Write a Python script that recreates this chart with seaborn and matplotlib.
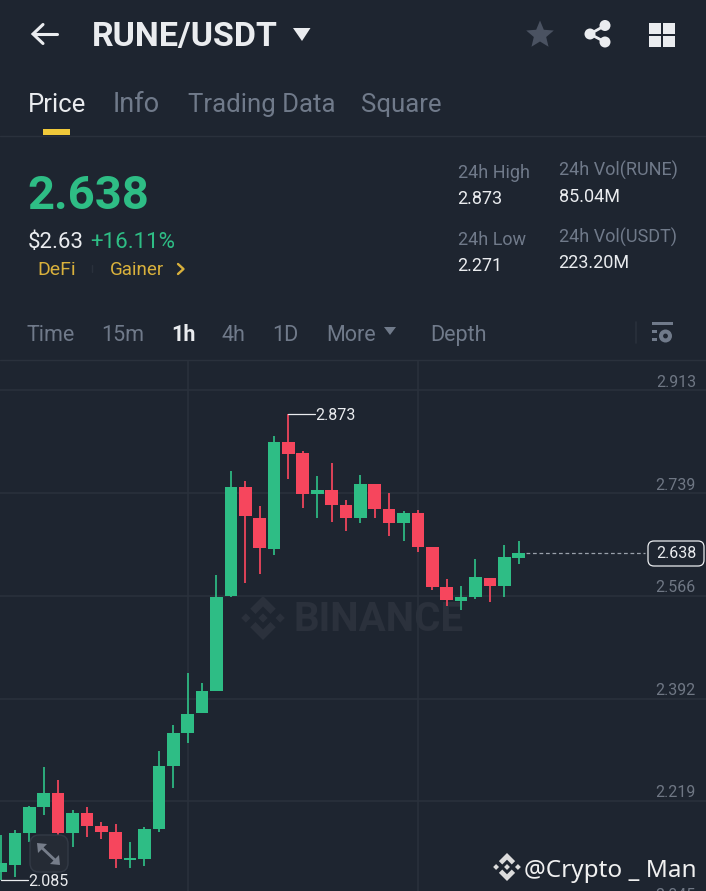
import matplotlib
matplotlib.use("Agg")
import matplotlib.pyplot as plt
from matplotlib.patches import Polygon, Rectangle, Circle, FancyBboxPatch
import numpy as np
import pandas as pd
import seaborn as sns

# ── 1h candles ──────────────────────────────────────────────────────────────
opens = [2.099, 2.110, 2.165, 2.208, 2.233, 2.165, 2.199, 2.176, 2.166, 2.119, 2.121, 2.171,
         2.278, 2.334, 2.367, 2.405, 2.565, 2.749, 2.698, 2.645, 2.825, 2.807, 2.738, 2.744,
         2.719, 2.698, 2.754, 2.712, 2.688, 2.705, 2.649, 2.581, 2.557, 2.564, 2.596, 2.582, 2.630]
closes = [2.114, 2.164, 2.208, 2.233, 2.164, 2.199, 2.176, 2.167, 2.120, 2.122, 2.171, 2.278,
          2.333, 2.365, 2.405, 2.564, 2.749, 2.701, 2.646, 2.825, 2.806, 2.738, 2.745, 2.719,
          2.698, 2.755, 2.713, 2.688, 2.705, 2.648, 2.581, 2.558, 2.563, 2.597, 2.583, 2.631, 2.638]
highs = [2.161, 2.170, 2.210, 2.277, 2.254, 2.203, 2.208, 2.184, 2.179, 2.150, 2.175, 2.304,
         2.347, 2.435, 2.418, 2.600, 2.776, 2.760, 2.718, 2.836, 2.873, 2.811, 2.769, 2.790,
         2.728, 2.770, 2.754, 2.740, 2.709, 2.710, 2.649, 2.594, 2.583, 2.628, 2.596, 2.652, 2.659]
lows = [2.085, 2.091, 2.150, 2.195, 2.161, 2.141, 2.158, 2.154, 2.105, 2.105, 2.108, 2.167,
        2.240, 2.317, 2.367, 2.404, 2.563, 2.587, 2.602, 2.634, 2.763, 2.714, 2.697, 2.691,
        2.675, 2.688, 2.697, 2.666, 2.658, 2.640, 2.576, 2.548, 2.542, 2.561, 2.555, 2.563, 2.619]

price_ticks = [2.913, 2.739, 2.566, 2.392, 2.219, 2.045]
time_grid = [13, 29]
last_price = 2.638
chart_high = 2.873
chart_low = 2.085

# ── Colours ─────────────────────────────────────────────────────────────────
BG = "#1e2530"
GRID = "#2a313c"
UP = "#2ebd85"
DOWN = "#f6465d"
WHITE = "#eaecef"
MUTED = "#707a8a"
AXIS_TXT = "#6f7784"
YELLOW = "#d9b13c"
MARK = "#2b313c"

W, H = 706, 891
CHART_TOP = 360

sns.set_theme(style="dark", rc={"figure.facecolor": BG, "axes.facecolor": BG})
plt.rcParams["font.family"] = ["Roboto", "DejaVu Sans"]

fig = plt.figure(figsize=(W / 100, H / 100), dpi=100)


def pixel_axes(zorder):
    a = fig.add_axes([0, 0, 1, 1], zorder=zorder)
    a.set_xlim(0, W)
    a.set_ylim(H, 0)
    a.axis("off")
    return a


bg_ax = pixel_axes(0)
top_ax = pixel_axes(2)
ax = fig.add_axes([0, 0, 1, (H - CHART_TOP) / H], zorder=1)
ax.patch.set_alpha(0)


def txt(x, y, s, size, color=WHITE, weight="normal", ha="left", target=None, **kw):
    (target or bg_ax).text(x, y, s, fontsize=size, color=color, fontweight=weight,
                           ha=ha, va="baseline", **kw)


def binance_logo(a, cx, cy, r, color):
    chevron = np.array([(0, -1), (.58, -.42), (.34, -.18), (0, -.52), (-.34, -.18), (-.58, -.42)])
    diamond = np.array([(0, -.21), (.21, 0), (0, .21), (-.21, 0)])
    for sign in (1, -1):
        a.add_patch(Polygon(chevron * [1, sign] * r + [cx, cy], color=color, lw=0))
        a.add_patch(Polygon((diamond + [sign * .78, 0]) * r + [cx, cy], color=color, lw=0))
    a.add_patch(Polygon(diamond * r + [cx, cy], color=color, lw=0))


# ── Candles ─────────────────────────────────────────────────────────────────
df = pd.DataFrame({"open": opens, "close": closes, "high": highs, "low": lows})
df["idx"] = np.arange(len(df))
df["bottom"] = df[["open", "close"]].min(axis=1)
df["body"] = (df["close"] - df["open"]).abs()
df["up"] = df["close"] >= df["open"]

for up, color in [(True, UP), (False, DOWN)]:
    sub = df[df["up"] == up]
    ax.vlines(sub["idx"], sub["low"], sub["high"], color=color, lw=1.25, zorder=2)
    sns.barplot(data=sub, x="idx", y="body", bottom=sub["bottom"].values, native_scale=True,
                color=color, saturation=1, width=0.88, errorbar=None, linewidth=0, ax=ax, zorder=3)

ax.set_xlabel("")
ax.set_ylabel("")
ax.set_xticks(time_grid)
ax.set_yticks(price_ticks)
ax.set_xticklabels([])
ax.set_yticklabels([])
ax.tick_params(length=0)
ax.grid(True, color=GRID, lw=1.1)
ax.set_axisbelow(True)
for s in ax.spines.values():
    s.set_visible(False)
# limits go after the ticks: set_yticks widens the view to take in 2.045
# pixel fit: candle i sits at 0.6 + 14.39 i, price scale 0.001691 per pixel around 2.739
ax.set_xlim(-0.6 / 14.39, (W - 0.6) / 14.39)
ax.set_ylim(2.739 - (H - 493.3) * 0.001691, 2.739 + (493.3 - CHART_TOP) * 0.001691)

to_px = ax.get_yaxis_transform()
for p in price_ticks:
    ax.annotate(f"{p:.3f}", (696 / W, p), xycoords=to_px, xytext=(0, 0.4), textcoords="offset points",
                ha="right", va="bottom", fontsize=11.5, color=AXIS_TXT, annotation_clip=False)

# high / low / last markers
ax.plot([20, 21.85], [chart_high, chart_high], color=WHITE, lw=0.9, zorder=4)
ax.annotate(f"{chart_high:.3f}", (21.9, chart_high), xytext=(0, -1), textcoords="offset points",
            color=WHITE, fontsize=11.5, va="center", zorder=4)
ax.plot([0, 1.9], [chart_low, chart_low], color=WHITE, lw=0.9, zorder=4)
ax.plot([36.5, 44.8], [last_price, last_price], color="#9aa1ab", lw=0.9, ls=(0, (3, 2.2)), zorder=1)

top_ax.add_patch(FancyBboxPatch((648, 541), 56, 25, boxstyle="round,pad=0,rounding_size=6",
                                fc=BG, ec=WHITE, lw=0.9))
txt(676.5, 558.5, f"{last_price:.3f}", 11.5, ha="center", target=top_ax)

# watermark, under the candles
binance_logo(bg_ax, 263, 618, 22, MARK)
txt(294, 631, "BINANCE", 29, MARK, "bold")

# ── Header ──────────────────────────────────────────────────────────────────
bg_ax.plot([57, 34], [34, 34], color=WHITE, lw=2.2, solid_capstyle="round")
bg_ax.plot([43, 33, 43], [24.5, 34, 43.5], color=WHITE, lw=2.2, solid_capstyle="round",
           solid_joinstyle="miter")
txt(92, 46, "RUNE/USDT", 24.5, WHITE, "bold")
bg_ax.add_patch(Polygon([(293, 28), (310.5, 28), (302, 41)], color=WHITE, lw=0, joinstyle="round"))

ang = np.pi / 2 + np.arange(10) * np.pi / 5
rad = np.where(np.arange(10) % 2 == 0, 14.5, 6.5)
bg_ax.add_patch(Polygon(np.c_[540 + rad * np.cos(ang), 35 - rad * np.sin(ang)], color="#4a5261", lw=0))

bg_ax.plot([605, 590, 605], [25.5, 34, 42], color=WHITE, lw=2)
for cx, cy, r in [(605, 25.5, 5.5), (590, 34, 5.5), (605, 42, 5.5)]:
    bg_ax.add_patch(Circle((cx, cy), r, color=WHITE, lw=0))
for x0, y0 in [(649, 23), (663, 23), (649, 36), (663, 36)]:
    bg_ax.add_patch(Rectangle((x0, y0), 11.5, 11, color=WHITE, lw=0))

txt(27.5, 112, "Price", 18.5, WHITE)
txt(113, 112, "Info", 19.5, MUTED)
txt(187.5, 112, "Trading Data", 18.5, MUTED)
txt(361.5, 112, "Square", 18.5, MUTED)
bg_ax.add_patch(Rectangle((43, 129), 27, 6, color="#f0c93a", lw=0))
bg_ax.plot([0, W], [135.5, 135.5], color=GRID, lw=1)

# ── Price block ─────────────────────────────────────────────────────────────
txt(27, 209, "2.638", 34, UP, "bold")
txt(27.5, 248, "$2.63", 16, WHITE)
txt(90.5, 248, "+16.11%", 16, UP)
txt(37.5, 275, "DeFi", 14, YELLOW)
txt(109.5, 275, "Gainer", 13.5, YELLOW)
bg_ax.plot([92, 92], [265, 272], color=GRID, lw=1)
bg_ax.plot([178, 183.5, 178], [264, 269, 274], color=YELLOW, lw=1.7)

txt(458, 178, "24h High", 13, MUTED)
txt(457.5, 204, "2.873", 13, WHITE)
txt(458, 245, "24h Low", 13, MUTED)
txt(457.5, 271, "2.271", 13, WHITE)
txt(559, 176, "24h Vol(RUNE)", 13, MUTED)
txt(558.5, 202, "85.04M", 13, WHITE)
txt(559, 243, "24h Vol(USDT)", 13, MUTED)
txt(558.5, 268, "223.20M", 13, WHITE)

# ── Interval row ────────────────────────────────────────────────────────────
for x0, label, col, wt in [(26.5, "Time", MUTED, "normal"), (101.5, "15m", MUTED, "normal"),
                           (171, "1h", WHITE, "bold"), (222, "4h", MUTED, "normal"),
                           (272.5, "1D", MUTED, "normal"), (326.5, "More", MUTED, "normal"),
                           (430, "Depth", MUTED, "normal")]:
    txt(x0, 341, label, 15.5, col, wt)
bg_ax.add_patch(Polygon([(384, 327), (396, 327), (390, 335)], color=MUTED, lw=0))
bg_ax.plot([636, 636], [322, 343], color=GRID, lw=1.2)
bg_ax.add_patch(Rectangle((652, 322), 21, 3, color=MUTED, lw=0))
bg_ax.add_patch(Rectangle((652, 330), 5, 3, color=MUTED, lw=0))
bg_ax.add_patch(Rectangle((652, 338), 5, 3, color=MUTED, lw=0))
bg_ax.add_patch(Circle((665.5, 336), 6.5, color=MUTED, lw=0))
bg_ax.add_patch(Circle((665.5, 336), 2.4, color=BG, lw=0))
bg_ax.plot([0, W], [CHART_TOP, CHART_TOP], color=GRID, lw=1)

# ── Fullscreen button and credit ────────────────────────────────────────────
top_ax.add_patch(FancyBboxPatch((30, 835), 38, 37, boxstyle="round,pad=0,rounding_size=9",
                                fc="#262c36", ec="#343b47", lw=1, alpha=0.92))
top_ax.add_patch(Polygon([(37, 843), (47, 844), (38, 853)], color="#767d8a", lw=0))
top_ax.add_patch(Polygon([(60, 865), (50, 864), (59, 855)], color="#767d8a", lw=0))
top_ax.plot([40, 57], [846, 862], color="#767d8a", lw=2)
# low label sits over the button
top_ax.annotate(f"{chart_low:.3f}", (1.93, chart_low), xycoords=ax.transData, xytext=(0, -1),
                textcoords="offset points", color=WHITE, fontsize=11.5, va="center")

binance_logo(top_ax, 507, 867, 14, "#dcdcdc")
txt(524, 877, "@Crypto _ Man", 17.5, "#f0f0f0", target=top_ax, family=["Noto Sans", "DejaVu Sans"])

fig.savefig("out.png", dpi=100, facecolor=BG)
